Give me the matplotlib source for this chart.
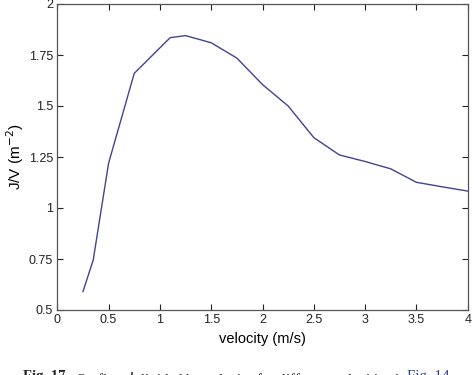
import matplotlib
matplotlib.use("Agg")
import matplotlib.pyplot as plt

velocity = [0.25, 0.35, 0.5, 0.75, 1.0, 1.1, 1.25, 1.5, 1.75, 2.0, 2.25, 2.5, 2.75, 3.0, 3.25, 3.5, 3.75, 4.0]
j_over_v = [0.59, 0.745, 1.22, 1.66, 1.785, 1.835, 1.845, 1.81, 1.735, 1.605, 1.50, 1.345, 1.26, 1.228, 1.192, 1.126, 1.104, 1.083]

xticks = [0, 0.5, 1, 1.5, 2, 2.5, 3, 3.5, 4]
xticklabels = ["0", "0.5", "1", "1.5", "2", "2.5", "3", "3.5", "4"]
yticks = [0.5, 0.75, 1, 1.25, 1.5, 1.75, 2]
yticklabels = ["0.5", "0.75", "1", "1.25", "1.5", "1.75", "2"]

plt.rcParams['font.family'] = ['Liberation Sans', 'DejaVu Sans']

fig = plt.figure(figsize=(4.74, 3.75), dpi=100)
ax = fig.add_axes([57.3/474, 1 - 310/375, (467.7-57.3)/474, (310-4)/375])
ax.plot(velocity, j_over_v, color='#434390', linewidth=1.0)
ax.set_xlim(0, 4)
ax.set_ylim(0.5, 2)
ax.set_xticks(xticks)
ax.set_xticklabels(xticklabels)
ax.set_yticks(yticks)
ax.set_yticklabels(yticklabels)
ax.tick_params(direction='in', length=4, width=0.8, top=True, right=True,
               labelsize=9, colors='#222222', pad=3)
for s in ax.spines.values():
    s.set_color('#555555')
    s.set_linewidth(0.9)
ax.set_xlabel('velocity (m/s)', fontsize=10.5, labelpad=4)
ax.set_ylabel('J/V (m$^{-2}$)', fontsize=11, labelpad=2)

cap_y = 1 - 370/375
fig.text(23/474, cap_y, 'Fig. 17.', fontsize=10.5, fontweight='bold',
         family=['Liberation Serif'], va='top', ha='left', color='#222222')
fig.text(75/474, cap_y, 'Outflow $J$ divided by velocity for different velocities in',
         fontsize=10.8, family=['Liberation Serif'], va='top', ha='left', color='#222222')
fig.text(407/474, cap_y, 'Fig. 14', fontsize=10.8, family=['Liberation Serif'],
         va='top', ha='left', color='#2a3f9a')

fig.savefig('out.png', dpi=100)
